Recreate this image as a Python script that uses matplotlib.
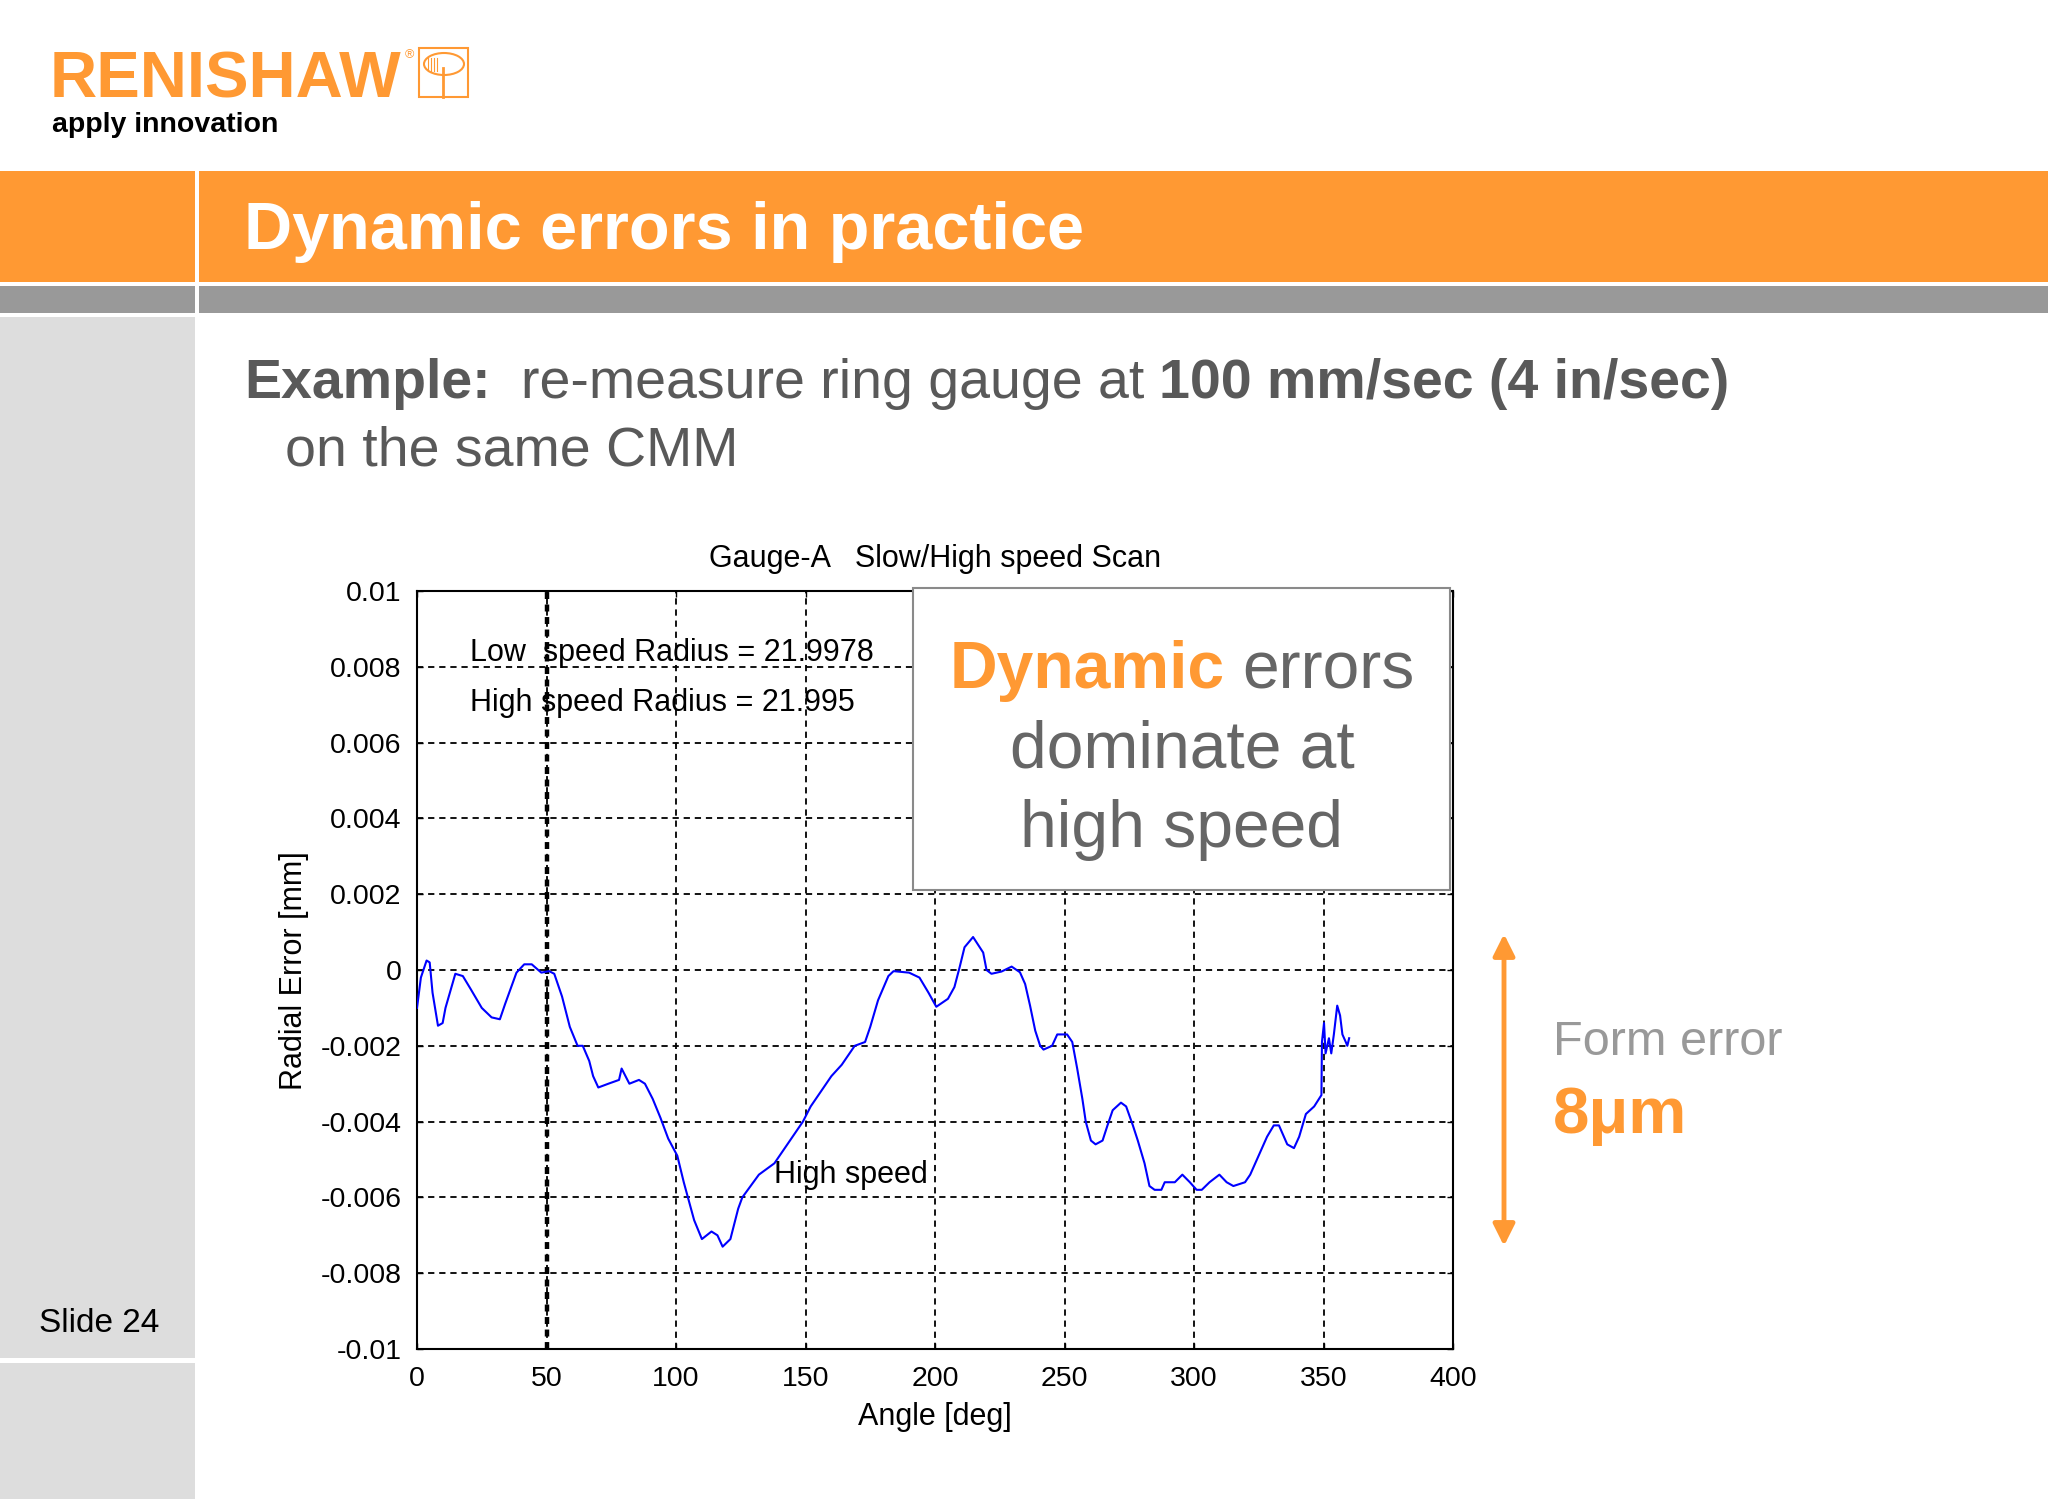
import matplotlib.pyplot as plt
from matplotlib.patches import Rectangle, Ellipse, FancyArrowPatch
from matplotlib.lines import Line2D
import matplotlib.ticker as ticker

# High speed scan trace (angle [deg], radial error [mm])
angle_deg = [
    0, 1.5, 3.7, 4.9, 6, 8.1, 9.9, 11, 14.8, 17.7, 20.7, 25, 28.8, 32, 34, 38.4,
    41.4, 44.3, 48, 51, 53, 56, 59, 62, 64, 66.5, 68, 70, 73.9, 78, 79, 82, 85.7,
    88, 91, 94, 97, 100.5, 103, 107, 110, 113.7, 116, 118, 121, 124, 125.6, 132,
    138, 141, 149, 152, 157, 160, 164, 169, 173, 175, 178, 182, 184, 190, 194,
    197.5, 200.5, 205, 207.5, 209.5, 211.4, 214.7, 218.6, 219.9, 221.8, 225.7,
    229.6, 232.8, 234.8, 236.7, 238.7, 240.6, 241.9, 245.2, 247.2, 251, 253,
    254.9, 256.9, 258.2, 260.2, 262, 264.7, 266.6, 268.6, 271.8, 273.8, 276.4,
    278.3, 280.9, 282.8, 284.8, 287.4, 288.7, 292.6, 295.5, 298.4, 301, 303, 306,
    309.8, 312.6, 315.2, 319.7, 321.7, 325.6, 328.2, 330.8, 332.8, 336, 338.6,
    340.6, 343.2, 346.4, 349.2, 349.4, 350.2, 350.8, 352.1, 353, 354, 355.3,
    356.4, 357.3, 358.6, 359.2, 359.9,
]
radial_error_mm = [
    -0.0010, -0.0002, 0.00025, 0.0002, -0.0006, -0.00147, -0.0014, -0.0010,
    -0.0001, -0.00016, -0.0005, -0.0010, -0.00125, -0.0013, -0.0009, -0.00007,
    0.00015, 0.00015, -0.00007, -0.00003, -0.0001, -0.0007, -0.0015, -0.0020,
    -0.0020, -0.0024, -0.0028, -0.0031, -0.0030, -0.0029, -0.0026, -0.0030,
    -0.0029, -0.0030, -0.0034, -0.0039, -0.00445, -0.0049, -0.0056, -0.0066,
    -0.0071, -0.0069, -0.0070, -0.0073, -0.0071, -0.0063, -0.0060, -0.0054,
    -0.0051, -0.0048, -0.0040, -0.0036, -0.0031, -0.0028, -0.0025, -0.0020,
    -0.0019, -0.0015, -0.0008, -0.00016, -0.00003, -0.00007, -0.0002, -0.0006,
    -0.00097, -0.00076, -0.00045, 0.00007, 0.0006, 0.00087, 0.00046, 0.0,
    -0.0001, -0.00004, 0.00009, -0.00006, -0.00037, -0.00094, -0.0016, -0.0020,
    -0.0021, -0.0020, -0.0017, -0.0017, -0.0019, -0.0026, -0.0034, -0.0040,
    -0.0045, -0.0046, -0.0045, -0.0041, -0.0037, -0.0035, -0.0036, -0.0041,
    -0.0045, -0.0051, -0.0057, -0.0058, -0.0058, -0.0056, -0.0056, -0.0054,
    -0.0056, -0.0058, -0.0058, -0.0056, -0.0054, -0.0056, -0.0057, -0.0056,
    -0.0054, -0.0048, -0.0044, -0.0041, -0.0041, -0.0046, -0.0047, -0.0044,
    -0.0038, -0.0036, -0.0033, -0.0019, -0.0014, -0.0022, -0.0018, -0.0022,
    -0.0017, -0.00094, -0.0012, -0.0017, -0.0019, -0.0020, -0.0018,
]

x_ticks = [0, 50, 100, 150, 200, 250, 300, 350, 400]
y_ticks = [-0.01, -0.008, -0.006, -0.004, -0.002, 0, 0.002, 0.004, 0.006, 0.008, 0.01]
y_tick_labels = ["-0.01", "-0.008", "-0.006", "-0.004", "-0.002", "0",
                 "0.002", "0.004", "0.006", "0.008", "0.01"]
start_angle = 50          # heavy dotted line in the scan plot
low_speed_radius = "21.9978"
high_speed_radius = "21.995"
form_error = "8\u03bcm"

# Colors
orange = "#FF9933"
band_grey = "#999999"
panel_grey = "#DDDDDD"
text_grey = "#595959"
box_text_grey = "#666666"
light_grey = "#999999"

plt.rcParams['font.family'] = ['Liberation Sans', 'DejaVu Sans']
plt.rcParams['lines.scale_dashes'] = False

W, H = 2048, 1499
fig = plt.figure(figsize=(W / 100, H / 100), dpi=100)
fig.patch.set_facecolor('white')
renderer = fig.canvas.get_renderer()


def fx(x):
    return x / W


def fy(y):
    return 1 - y / H


def block(x0, y0, x1, y1, color, z=0):
    fig.add_artist(Rectangle((fx(x0), fy(y1)), (x1 - x0) / W, (y1 - y0) / H,
                             transform=fig.transFigure, facecolor=color,
                             edgecolor='none', zorder=z))


def ftext(x, y, s, **kw):
    return fig.text(fx(x), fy(y), s, **kw)


def text_width(t):
    return t.get_window_extent(renderer=renderer).width


# Slide background bands
block(0, 171, 195, 282, orange)
block(199, 171, W, 282, orange)
block(0, 286, 195, 313, band_grey)
block(199, 286, W, 313, band_grey)
block(0, 317, 195, 1358, panel_grey)
block(0, 1363, 195, H, panel_grey)

# Logo
ftext(50, 97, "RENISHAW", fontsize=47, fontweight='bold', color=orange, va='baseline')
ftext(405, 49, "\u00ae", fontsize=9, color=orange, va='top')
fig.add_artist(Rectangle((fx(419), fy(97)), 49 / W, 49 / H, transform=fig.transFigure,
                         facecolor='none', edgecolor=orange, lw=1.5))
fig.add_artist(Ellipse((fx(444), fy(64)), 40 / W, 22 / H, transform=fig.transFigure,
                       facecolor='none', edgecolor=orange, lw=1.5))
for hx in range(428, 440, 3):
    fig.add_artist(Line2D([fx(hx), fx(hx)], [fy(58), fy(71)], transform=fig.transFigure,
                          color=orange, lw=0.8))
fig.add_artist(Line2D([fx(443), fx(443)], [fy(68), fy(97)], transform=fig.transFigure,
                      color=orange, lw=2))
ftext(52, 132, "apply innovation", fontsize=20.5, fontweight='bold', color='black', va='baseline')

# Title
ftext(244, 249, "Dynamic errors in practice", fontsize=48, fontweight='bold', color='white',
      va='baseline')

# Subtitle with mixed weights
x = 244
sub_parts = [("Example:", 'bold', 30), ("re-measure ring gauge at", 'normal', 15),
             ("100 mm/sec (4 in/sec)", 'bold', 0)]
for s, wgt, gap in sub_parts:
    t = ftext(x, 398, s, fontsize=40, fontweight=wgt, color=text_grey, va='baseline')
    x += text_width(t) + gap
ftext(285, 465, "on the same CMM", fontsize=40, color=text_grey, va='baseline')

# Scan plot
ax = fig.add_axes([fx(417), fy(1349), (1453 - 417) / W, (1349 - 591) / H])
ax.plot(angle_deg, radial_error_mm, color='#0000FF', lw=1.5, zorder=3)
ax.axvline(start_angle, color='black', lw=3.2, linestyle=(0, (5, 4)), zorder=2)
ax.set_xlim(x_ticks[0], x_ticks[-1])
ax.set_ylim(y_ticks[0], y_ticks[-1])
ax.xaxis.set_major_locator(ticker.FixedLocator(x_ticks))
ax.yaxis.set_major_locator(ticker.FixedLocator(y_ticks))
ax.yaxis.set_major_formatter(ticker.FixedFormatter(y_tick_labels))
ax.grid(True, which='major', color='black', lw=1.3, linestyle=(0, (4.5, 3.5)))
ax.set_axisbelow(True)
ax.tick_params(direction='in', length=4, width=1, top=True, right=True,
               labelsize=20.5, colors='black')
ax.tick_params(axis='y', pad=11)
ax.tick_params(axis='x', pad=12)
for sp in ax.spines.values():
    sp.set_linewidth(1.5)

ax.text(20.5, 0.00836, f"Low  speed Radius = {low_speed_radius}", fontsize=22,
        va='center', ha='left', zorder=4)
ax.text(20.5, 0.00705, f"High speed Radius = {high_speed_radius}", fontsize=22,
        va='center', ha='left', zorder=4)
ax.text(138, -0.00542, "High speed", fontsize=22, va='center', ha='left', zorder=4)

ftext(935, 567, "Gauge-A   Slow/High speed Scan", fontsize=22, ha='center', va='baseline')
ftext(935, 1425, "Angle [deg]", fontsize=22, ha='center', va='baseline')
ftext(294, 971, "Radial Error [mm]", fontsize=22, ha='center', va='center', rotation=90)

# Callout box
fig.add_artist(Rectangle((fx(913), fy(890)), (1450 - 913) / W, (890 - 588) / H,
                         transform=fig.transFigure, facecolor='white', edgecolor='#8a8a8a',
                         lw=1.5, zorder=5))
cx = 1182
t1 = ftext(0, 688, "Dynamic", fontsize=47.5, fontweight='bold', color=orange,
           va='baseline', zorder=6)
t2 = ftext(0, 688, "errors", fontsize=47.5, color=box_text_grey, va='baseline', zorder=6)
gap = 18
w1, w2 = text_width(t1), text_width(t2)
left = cx - (w1 + gap + w2) / 2
t1.set_x(fx(left))
t2.set_x(fx(left + w1 + gap))
ftext(cx, 767, "dominate at", fontsize=47.5, color=box_text_grey, ha='center',
      va='baseline', zorder=6)
ftext(cx, 847, "high speed", fontsize=47.5, color=box_text_grey, ha='center',
      va='baseline', zorder=6)

# Form error arrow and label
fig.add_artist(FancyArrowPatch((fx(1504), fy(1246)), (fx(1504), fy(934)),
                               transform=fig.transFigure,
                               arrowstyle='<|-|>,head_length=13,head_width=6.5',
                               mutation_scale=1, color=orange, lw=3.5,
                               shrinkA=0, shrinkB=0))
ftext(1553, 1055, "Form error", fontsize=35, color=light_grey, va='baseline')
ftext(1553, 1133, form_error, fontsize=47, fontweight='bold', color=orange, va='baseline')

# Slide number
ftext(39, 1332, "Slide 24", fontsize=24, color='black', va='baseline')

fig.savefig("out.png", dpi=100, facecolor='white')
